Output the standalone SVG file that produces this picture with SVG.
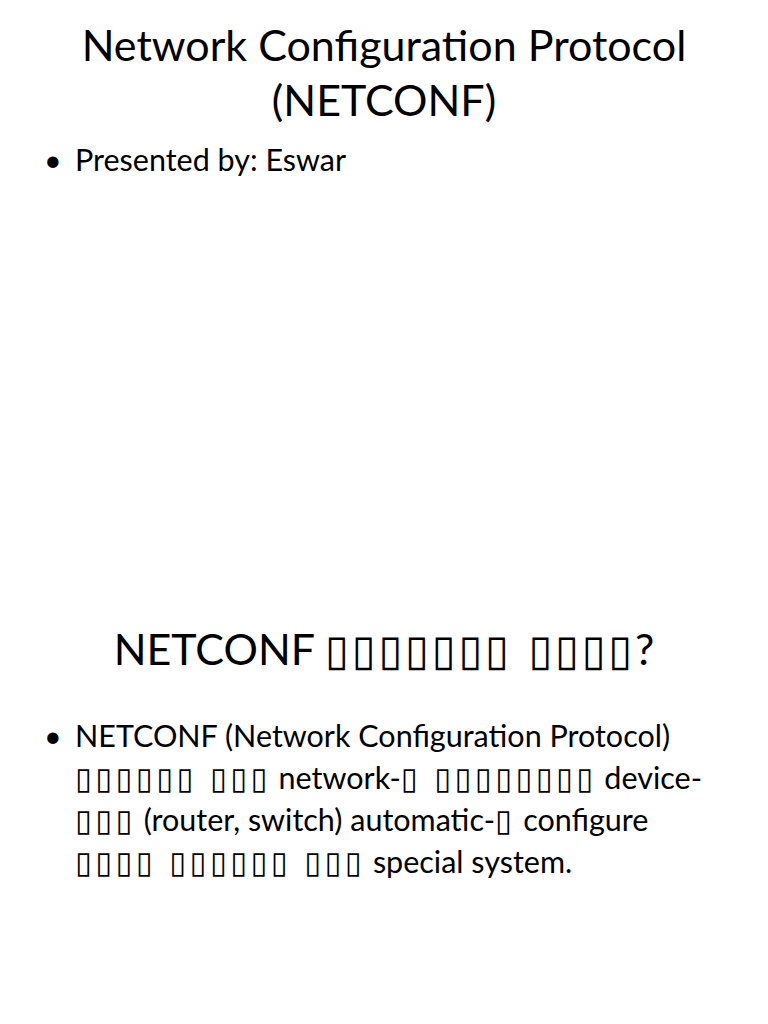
<svg xmlns="http://www.w3.org/2000/svg" width="768" height="1024" viewBox="0 0 768 1024">
<style>
text{font-family:Lato,"Open Sans","DejaVu Sans",sans-serif;fill:#000}
.t{font-size:43px;text-anchor:middle}
.b{font-size:30.5px}
.x{font-family:"DejaVu Sans",sans-serif;letter-spacing:3.5px}
.t .x{letter-spacing:3px}
</style>
<rect width="768" height="1024" fill="#fff"/>
<g id="slide1">
<text class="t" x="384" y="61">Network Configuration Protocol</text>
<text class="t" x="384" y="116">(NETCONF)</text>
<text class="b" x="44" y="171">•</text>
<text class="b" x="75" y="171">Presented by: Eswar</text>
</g>
<g id="slide2">
<text class="t" x="384" y="665">NETCONF <tspan class="x">▯▯▯▯▯▯▯ ▯▯▯▯</tspan>?</text>
<text class="b" x="44" y="747">•</text>
<text class="b" x="75" y="747">NETCONF (Network Configuration Protocol)</text>
<text class="b" x="75" y="789"><tspan class="x">▯▯▯▯▯▯ ▯▯▯</tspan> network-<tspan class="x">▯ ▯▯▯▯▯▯▯▯</tspan> device-</text>
<text class="b" x="75" y="831"><tspan class="x">▯▯▯</tspan> (router, switch) automatic-<tspan class="x">▯</tspan> configure</text>
<text class="b" x="75" y="873"><tspan class="x">▯▯▯▯ ▯▯▯▯▯▯ ▯▯▯</tspan> special system.</text>
</g>
</svg>
